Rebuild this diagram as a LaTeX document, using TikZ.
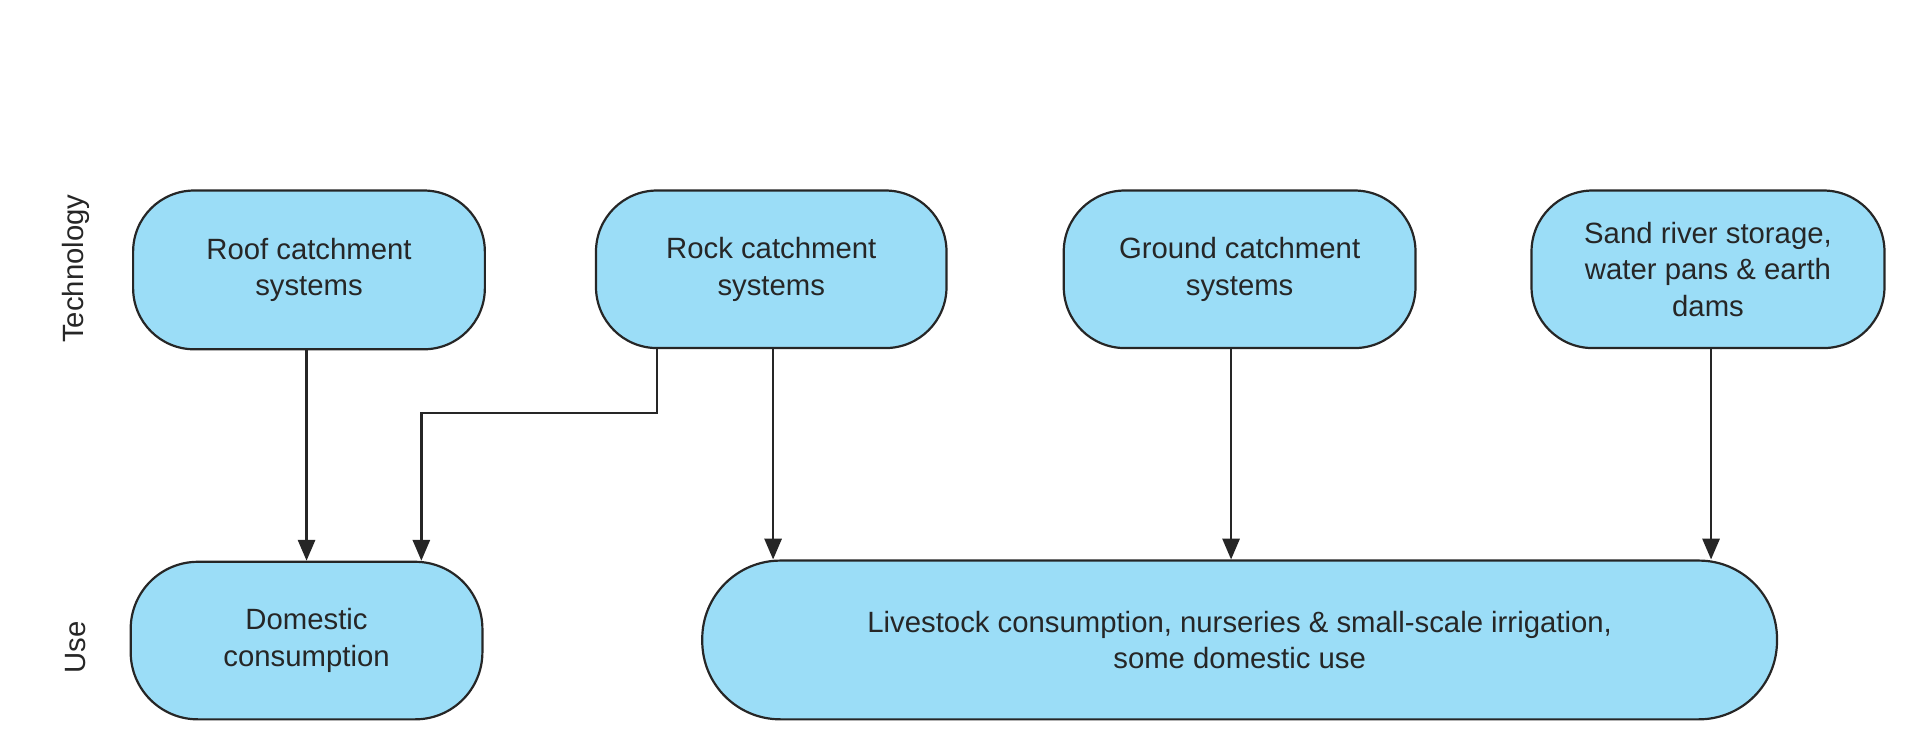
\documentclass[tikz,border=0pt]{standalone}
\usepackage{fontspec}
\setmainfont{Liberation Sans}
\usetikzlibrary{arrows.meta}
\begin{document}
\begin{tikzpicture}[x=1pt,y=-1pt,
  box/.style={draw=black!85,line width=1.8pt,fill=cyan!35!blue!10!white,fill={rgb,255:red,155;green,221;blue,247},align=center,font=\fontsize{24}{30}\selectfont,text=black!85,inner sep=0pt},
  arr/.style={line width=2pt,draw=black!85,-{Triangle[length=17pt,width=14pt]}},
  lab/.style={rotate=90,font=\fontsize{24}{30}\selectfont,text=black!85}]
\useasboundingbox (0,0) rectangle (1568,612);
\node[box,rounded corners=50pt,minimum width=288pt,minimum height=130pt] (roof) at (253,221) {Roof catchment\\systems};
\node[box,rounded corners=50pt,minimum width=287pt,minimum height=129pt] (rock) at (631.5,220.5) {Rock catchment\\systems};
\node[box,rounded corners=50pt,minimum width=288pt,minimum height=129pt] (ground) at (1015,220.5) {Ground catchment\\systems};
\node[box,rounded corners=50pt,minimum width=289pt,minimum height=129pt] (sand) at (1398.5,220.5) {Sand river storage,\\water pans \& earth\\dams};
\node[box,rounded corners=55pt,minimum width=288pt,minimum height=129pt] (dom) at (251,524.5) {Domestic\\consumption};
\node[box,rounded corners=64pt,minimum width=880pt,minimum height=130pt] (live) at (1015,524) {Livestock consumption, nurseries \& small-scale irrigation,\\some domestic use};
\node[lab] (t) at (62,220) {Technology};
\node[lab] (u) at (62,530) {Use};
\coordinate (k1) at (538,338);
\coordinate (k2) at (345,338);
\draw[arr] (roof.south -| 251,0) -- (dom.north -| 251,0);
\draw[arr] (rock.south -| k1) -- (k1) -- (k2) -- (dom.north -| k2);
\draw[arr] (rock.south -| 633,0) -- (live.north -| 633,0);
\draw[arr] (ground.south -| 1008,0) -- (live.north -| 1008,0);
\draw[arr] (sand.south -| 1401,0) -- (live.north -| 1401,0);
\end{tikzpicture}
\end{document}
